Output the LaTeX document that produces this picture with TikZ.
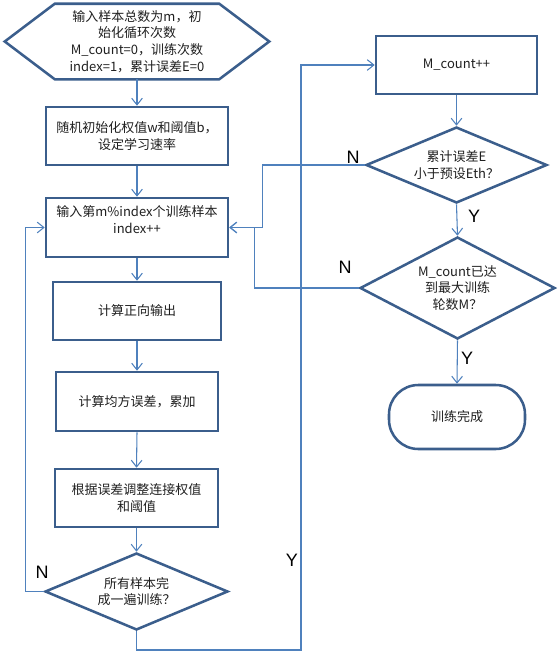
\documentclass[tikz,border=0pt]{standalone}
\usepackage{fontspec}
\setmainfont{Noto Sans CJK SC}
\newfontfamily\labfont{Liberation Sans}
\usetikzlibrary{shapes.geometric,arrows.meta}
\definecolor{shapeblue}{HTML}{3B5E8C}
\definecolor{lineblue}{HTML}{4F81BD}
\definecolor{txt}{HTML}{1F1F1F}
\begin{document}
\begin{tikzpicture}[x=0.75pt,y=-0.75pt,
  every node/.style={text=txt,font=\fontsize{9.75pt}{12.5pt}\selectfont,align=center,inner sep=0pt},
  box/.style={rectangle,draw=shapeblue,line width=1.9pt},
  dia/.style={diamond,draw=shapeblue,line width=1.9pt},
  term/.style={rectangle,rounded corners=22pt,draw=shapeblue,line width=1.9pt},
  conn/.style={draw=lineblue,line width=0.8pt,-{Straight Barb[length=5pt,width=8pt]}},
  lab/.style={font=\labfont\fontsize{13.5pt}{15pt}\selectfont,text=black}]
\useasboundingbox (0,0) rectangle (558,654);
% start hexagon
\node[minimum width=123pt,minimum height=56.25pt] (start) at (137,41.5)
  {输入样本总数为m，初\\始化循环次数\\M\_count=0，训练次数\\index=1，累计误差E=0};
\draw[draw=shapeblue,line width=1.9pt,line join=miter]
  (start.north west) -- (start.north east) -- ([xshift=37.5pt]start.east)
  -- (start.south east) -- (start.south west) -- ([xshift=-37.5pt]start.west) -- cycle;
% left column
\node[box,minimum width=136.5pt,minimum height=43.5pt] (init) at (137,136)
  {随机初始化权值w和阈值b，\\设定学习速率};
\node[box,minimum width=136.5pt,minimum height=44.25pt] (input) at (137,227.5) {};
\node (inputtxt) at (137,219.5) {输入第m\%index个训练样本\\index++};
\node[box,minimum width=126pt,minimum height=43.5pt] (fwd) at (137,311) {计算正向输出};
\node[box,minimum width=121.5pt,minimum height=44.25pt] (err) at (137,401.5) {计算均方误差，累加};
\node[box,minimum width=122.25pt,minimum height=43.5pt] (adj) at (136.5,498) {根据误差调整连接权值\\和阈值};
\node[dia,aspect=2.38,minimum width=137.25pt,minimum height=57.75pt] (all) at (136.5,591.5) {所有样本完\\成一遍训练？};
% right column
\node[box,minimum width=120.75pt,minimum height=43.5pt] (mcount) at (456.5,65) {M\_count++};
\node[dia,aspect=2.38,minimum width=135.75pt,minimum height=57pt] (dE) at (456.5,165) {累计误差E\\小于预设Eth？};
\node[dia,aspect=1.91,minimum width=146.25pt,minimum height=76.5pt] (dM) at (457.5,288) {M\_count已达\\到最大训练\\轮数M？};
\node[term,minimum width=102pt,minimum height=48pt] (done) at (457,417) {训练完成};
% connectors
\draw[conn] (start.south) -- (init.north);
\draw[conn] (init.south) -- (input.north);
\draw[conn] (input.south) -- (fwd.north);
\draw[conn] (fwd.south) -- (err.north);
\draw[conn] (err.south) -- (adj.north);
\draw[conn] (adj.south) -- (all.north);
\draw[conn] (all.west) -- ++(-18,0) |- (input.west);
\draw[conn] (all.south) |- (301,650) |- (mcount.west);
\draw[conn] (mcount.south) -- (dE.north);
\draw[conn] (dE.west) -- ++(-102,0) |- (input.east);
\draw[conn] (dE.south) -- (dM.north);
\draw[conn] (dM.west) -- ++(-104,0) |- (input.east);
\draw[conn] (dM.south) -- (done.north);
% labels
\node[lab] (nE) at (353,157) {N};
\node[lab] (nM) at (345,267) {N};
\node[lab] (nAll) at (42,572) {N};
\node[lab] (yAll) at (292,560) {Y};
\node[lab] (yE) at (474,216) {Y};
\node[lab] (yM) at (467,358) {Y};
\end{tikzpicture}
\end{document}
